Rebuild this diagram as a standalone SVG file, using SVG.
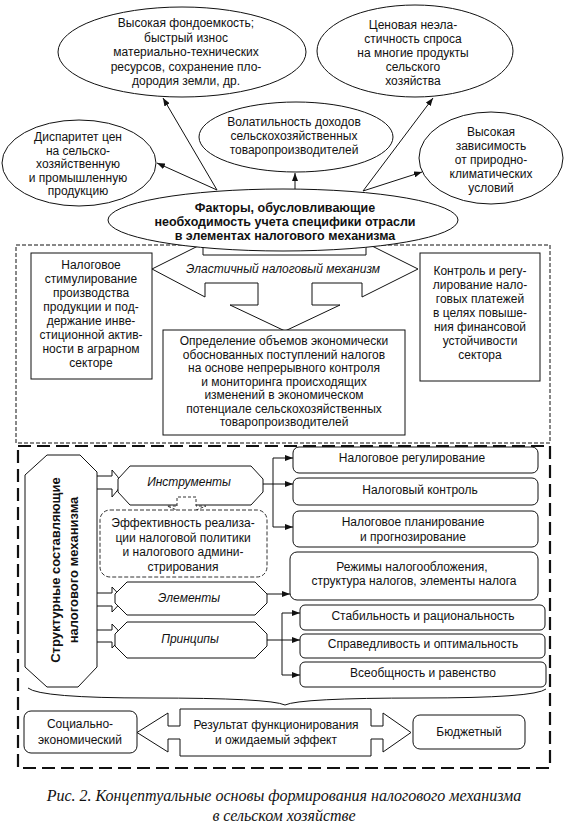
<svg xmlns="http://www.w3.org/2000/svg" width="567" height="837" viewBox="0 0 567 837">
<style>
.t{font-family:"Liberation Sans",Arial,sans-serif;font-size:12px;fill:#111;text-anchor:middle}
.b{font-weight:bold}
.i{font-style:italic}
.s{fill:#fff;stroke:#111;stroke-width:1}
.c{fill:none;stroke:#111;stroke-width:1}
.cap{font-family:"Liberation Serif","Times New Roman",serif;font-style:italic;font-size:16px;fill:#111;text-anchor:middle}
</style>
<defs>
<marker id="ah" viewBox="0 0 8 6" refX="8" refY="3" markerWidth="8" markerHeight="6" markerUnits="userSpaceOnUse" orient="auto">
<path d="M0,0 L8,3 L0,6 z" fill="#111"/>
</marker>
</defs>
<rect width="567" height="837" fill="#fff"/>

<g id="frames">
<rect x="16" y="245" width="534" height="198" fill="none" stroke="#111" stroke-width="1" stroke-dasharray="4 2"/>
<rect x="18" y="446" width="532" height="322" fill="none" stroke="#111" stroke-width="2.2" stroke-dasharray="13 6"/>
</g>

<g id="elastic">
<polygon class="s" points="152,269 210,240 360,240 418,269 362,297 362,283 312,283 312,305 340,305 285,331 230,305 258,305 258,283 205,283 205,297"/>
<path class="c" d="M203 228 V255 H366 V228"/>
<text class="t i" x="283" y="273">Эластичный налоговый механизм</text>
</g>

<g id="connectors">
<line class="c" x1="217" y1="190" x2="163" y2="98" marker-end="url(#ah)"/>
<line class="c" x1="217" y1="190" x2="157" y2="163" marker-end="url(#ah)"/>
<line class="c" x1="295" y1="189" x2="295" y2="173" marker-end="url(#ah)"/>
<line class="c" x1="363" y1="191" x2="433" y2="98" marker-end="url(#ah)"/>
<line class="c" x1="363" y1="191" x2="422" y2="172" marker-end="url(#ah)"/>
<path class="c" d="M263 484 H293" marker-end="url(#ah)"/>
<path class="c" d="M273 484 V458 H293" marker-end="url(#ah)"/>
<path class="c" d="M273 484 V527 H293" marker-end="url(#ah)"/>
<path class="c" d="M267 594 H290" marker-end="url(#ah)"/>
<path class="c" d="M267 640 H300" marker-end="url(#ah)"/>
<path class="c" d="M282 640 V613 H300" marker-end="url(#ah)"/>
<path class="c" d="M282 640 V675 H300" marker-end="url(#ah)"/>
<path class="s" d="M97 476 H112 V470 Q119 477 121 483 Q119 490 112 497 V489 H97"/>
<path class="s" d="M97 593 H112 V587 Q119 593 121 599.5 Q119 606 112 612 V606 H97"/>
<path class="s" d="M97 630 H112 V624 Q119 630 121 636 Q119 642 112 648 V642 H97"/>
<path class="c" d="M28 688 Q40 698 150 698 Q270 698 285 705 Q300 698 420 698 Q535 698 546 689"/>
</g>

<g id="n-central">
<ellipse class="s" cx="283" cy="220" rx="175" ry="31"/>
<text class="t b" style="font-size:12.5px" x="285" y="212">Факторы, обусловливающие</text>
<text class="t b" style="font-size:12.5px" x="285" y="226">необходимость учета специфики отрасли</text>
<text class="t b" style="font-size:12.5px" x="285" y="240">в элементах налогового механизма</text>
</g>

<g id="n-e1">
<ellipse class="s" cx="182" cy="52" rx="124" ry="45"/>
<text class="t" x="186" y="27">Высокая фондоемкость;</text>
<text class="t" x="186" y="41.5">быстрый износ</text>
<text class="t" x="186" y="56">материально-технических</text>
<text class="t" x="186" y="70.5">ресурсов, сохранение пло-</text>
<text class="t" x="186" y="85">дородия земли, др.</text>
</g>

<g id="n-e2">
<ellipse class="s" cx="415" cy="51" rx="98" ry="46"/>
<text class="t" x="413" y="29">Ценовая неэла-</text>
<text class="t" x="413" y="43">стичность спроса</text>
<text class="t" x="413" y="57">на многие продукты</text>
<text class="t" x="413" y="71">сельского</text>
<text class="t" x="413" y="85">хозяйства</text>
</g>

<g id="n-e3">
<ellipse class="s" cx="296" cy="137" rx="97" ry="35"/>
<text class="t" x="294" y="126">Волатильность доходов</text>
<text class="t" x="294" y="140">сельскохозяйственных</text>
<text class="t" x="294" y="154">товаропроизводителей</text>
</g>

<g id="n-e4">
<ellipse class="s" cx="79" cy="163" rx="77" ry="43"/>
<text class="t" x="78" y="141">Диспаритет цен</text>
<text class="t" x="78" y="154.5">на сельско-</text>
<text class="t" x="78" y="168">хозяйственную</text>
<text class="t" x="78" y="181.5">и промышленную</text>
<text class="t" x="78" y="195">продукцию</text>
</g>

<g id="n-e5">
<ellipse class="s" cx="491" cy="158" rx="72" ry="46"/>
<text class="t" x="491" y="136">Высокая</text>
<text class="t" x="491" y="150">зависимость</text>
<text class="t" x="491" y="164">от природно-</text>
<text class="t" x="491" y="178">климатических</text>
<text class="t" x="491" y="192">условий</text>
</g>

<g id="n-left">
<rect class="s" x="31" y="253" width="121" height="126"/>
<text class="t" x="91" y="269">Налоговое</text>
<text class="t" x="91" y="283">стимулирование</text>
<text class="t" x="91" y="297">производства</text>
<text class="t" x="91" y="311">продукции и под-</text>
<text class="t" x="91" y="325">держание инве-</text>
<text class="t" x="91" y="339">стиционной актив-</text>
<text class="t" x="91" y="353">ности в аграрном</text>
<text class="t" x="91" y="367">секторе</text>
</g>

<g id="n-right">
<rect class="s" x="420" y="253" width="120" height="128"/>
<text class="t" x="480" y="275">Контроль и регу-</text>
<text class="t" x="480" y="289">лирование нало-</text>
<text class="t" x="480" y="303">говых платежей</text>
<text class="t" x="480" y="317">в целях повыше-</text>
<text class="t" x="480" y="331">ния финансовой</text>
<text class="t" x="480" y="345">устойчивости</text>
<text class="t" x="480" y="359">сектора</text>
</g>

<g id="n-def">
<rect class="s" x="163" y="330" width="242" height="105"/>
<text class="t" x="284" y="345">Определение объемов экономически</text>
<text class="t" x="284" y="358.5">обоснованных поступлений налогов</text>
<text class="t" x="284" y="372">на основе непрерывного контроля</text>
<text class="t" x="284" y="385.5">и мониторинга происходящих</text>
<text class="t" x="284" y="399">изменений в экономическом</text>
<text class="t" x="284" y="412.5">потенциале сельскохозяйственных</text>
<text class="t" x="284" y="426">товаропроизводителей</text>
</g>

<g id="n-struct">
<polygon class="s" points="25,475 47,455 80,455 97,472 97,667 78,687 47,687 25,667"/>
<text class="t b" style="font-size:13px" transform="translate(59.5,570) rotate(-90)">Структурные составляющие</text>
<text class="t b" style="font-size:13px" transform="translate(77.5,570) rotate(-90)">налогового механизма</text>
</g>

<g id="n-instr">
<polygon class="s" points="118,479 130,466 251,466 263,479 263,492 251,505 130,505 118,492"/>
<text class="t i" x="189" y="486">Инструменты</text>
</g>

<g id="n-link">
<path d="M177 506 V497 H196 V506 H206 L186.5 514 L167 506 Z" fill="#fff" stroke="#333" stroke-width="1" stroke-dasharray="3 2"/>
</g>

<g id="n-eff">
<rect x="100" y="510" width="167" height="67" rx="10" fill="#fff" stroke="#333" stroke-width="1" stroke-dasharray="4 2"/>
<text class="t" x="183" y="527">Эффективность реализа-</text>
<text class="t" x="183" y="541.5">ции налоговой политики</text>
<text class="t" x="183" y="556">и налогового админи-</text>
<text class="t" x="183" y="570.5">стрирования</text>
</g>

<g id="n-elem">
<polygon class="s" points="115,594 127,582 255,582 267,594 267,603 255,615 127,615 115,603"/>
<text class="t i" x="189" y="602">Элементы</text>
</g>

<g id="n-princ">
<polygon class="s" points="115,634 127,622 255,622 267,634 267,646 255,658 127,658 115,646"/>
<text class="t i" x="190" y="643">Принципы</text>
</g>

<g id="n-r1"><rect class="s" x="293" y="447" width="245" height="26" rx="6"/><text class="t" x="412" y="462">Налоговое регулирование</text></g>
<g id="n-r2"><rect class="s" x="293" y="478" width="245" height="27" rx="6"/><text class="t" x="420" y="494">Налоговый контроль</text></g>
<g id="n-r3"><rect class="s" x="293" y="511" width="245" height="36" rx="6"/><text class="t" x="413" y="526">Налоговое планирование</text><text class="t" x="413" y="541">и прогнозирование</text></g>
<g id="n-r4"><rect class="s" x="290" y="552" width="248" height="48" rx="7"/><text class="t" x="412" y="571">Режимы налогообложения,</text><text class="t" x="414" y="585">структура налогов, элементы налога</text></g>
<g id="n-r5"><rect class="s" x="300" y="605" width="245" height="25" rx="5"/><text class="t" x="423" y="620">Стабильность и рациональность</text></g>
<g id="n-r6"><rect class="s" x="300" y="634" width="245" height="24" rx="5"/><text class="t" x="423" y="648">Справедливость и оптимальность</text></g>
<g id="n-r7"><rect class="s" x="300" y="662" width="246" height="25" rx="5"/><text class="t" x="423" y="677">Всеобщность и равенство</text></g>

<g id="n-social">
<rect class="s" x="24" y="711" width="113" height="42" rx="7"/>
<text class="t" x="80" y="728">Социально-</text>
<text class="t" x="80" y="744">экономический</text>
</g>

<g id="n-result">
<polygon class="s" points="180,709 371,709 371,726 383,726 383,713 411,732.5 383,752 383,739 371,739 371,756 180,756 180,739 168,739 168,752 137,732.5 168,713 168,726 180,726"/>
<text class="t" x="276" y="729">Результат функционирования</text>
<text class="t" x="276" y="744">и ожидаемый эффект</text>
</g>

<g id="n-budget">
<rect class="s" x="413" y="715" width="112" height="34" rx="7"/>
<text class="t" x="469" y="736">Бюджетный</text>
</g>

<g id="caption">
<text class="cap" x="284" y="801">Рис. 2. Концептуальные основы формирования налогового механизма</text>
<text class="cap" x="284" y="821">в сельском хозяйстве</text>
</g>
</svg>
